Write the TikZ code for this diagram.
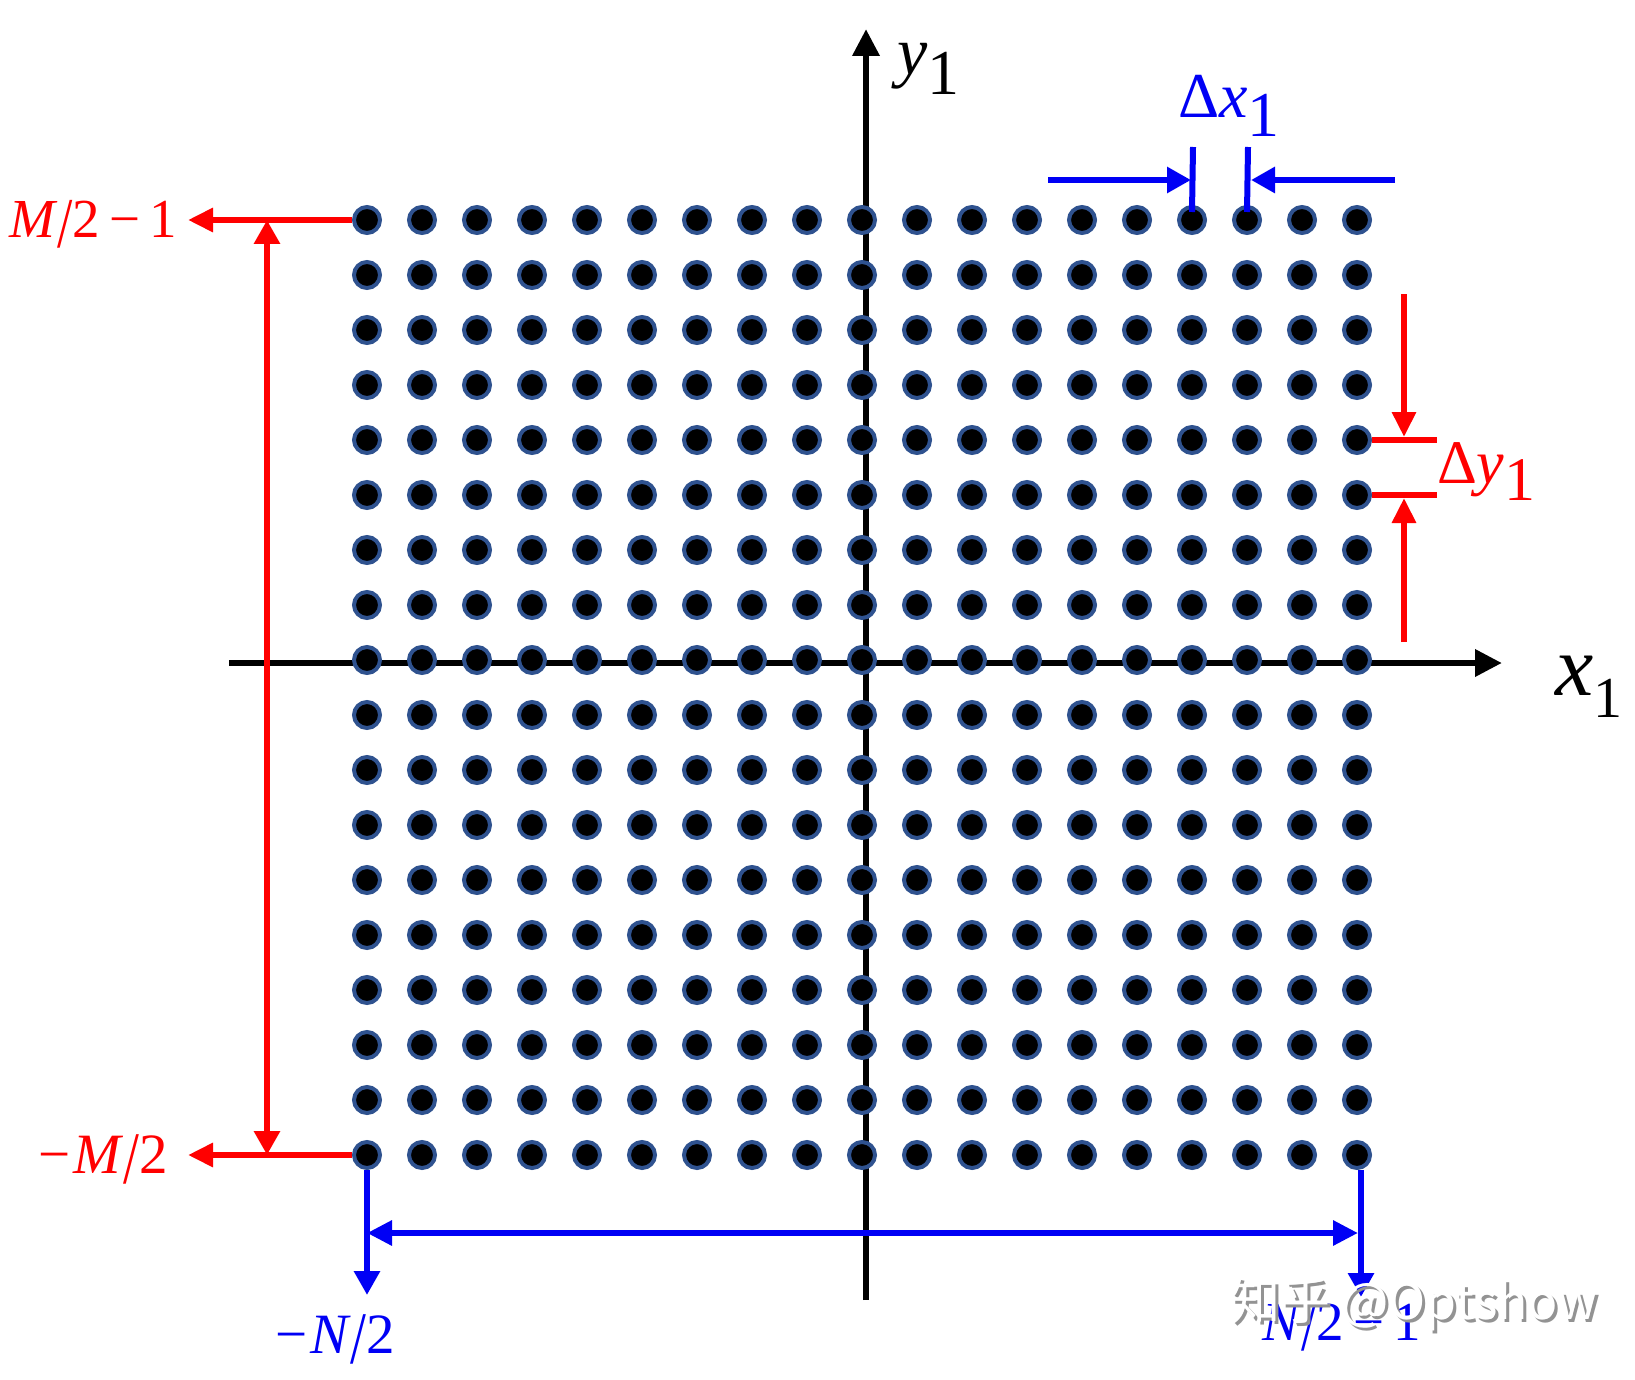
\documentclass[tikz,border=0pt]{standalone}
\usepackage{fontspec}
\usepackage{graphicx}
\setmainfont{Liberation Serif}
\newfontfamily\cjkfont{Noto Sans CJK SC}
\usetikzlibrary{arrows.meta}
\pgfdeclarelayer{bg}
\pgfsetlayers{bg,main}
\definecolor{dotedge}{RGB}{47,82,143}
\definecolor{myred}{RGB}{255,0,0}
\definecolor{myblue}{RGB}{0,0,245}
\newcommand\myfs[1]{\fontsize{#1}{#1}\selectfont}
\newcommand\bigsl{\raisebox{-10pt}{\scalebox{1}[1.3]{/}}}
\tikzset{
  dot/.style={circle,draw=dotedge,fill=black,line width=4pt,minimum size=26pt,inner sep=0pt},
  axisline/.style={line width=6.5pt,-{Triangle[length=27pt,width=26pt]}},
  redarr/.style={myred,line width=6pt,-{Triangle[length=25pt,width=23pt]}},
  redarrs/.style={myred,line width=6pt,{Triangle[length=24pt,width=25pt]}-{Triangle[length=24pt,width=25pt]}},
  redline/.style={myred,line width=6pt},
  bluearr/.style={myblue,line width=6pt,-{Triangle[length=24pt,width=25pt]}},
  bluearrs/.style={myblue,line width=6pt,{Triangle[length=25pt,width=24pt]}-{Triangle[length=25pt,width=24pt]}},
  blueline/.style={myblue,line width=6pt},
  lbl/.style={inner sep=0pt,outer sep=0pt},
}
\begin{document}
\begin{tikzpicture}[x=1pt,y=-1pt]
\begin{pgfonlayer}{bg}
\fill[white] (0,0) rectangle (1635,1380);
\end{pgfonlayer}
\useasboundingbox (0,0) rectangle (1635,1380);

% grid of samples
\foreach \i in {0,...,18}{
  \foreach \j in {0,...,17}{
    \node[dot] (d-\i-\j) at ({367+55*\i},{220+55*\j}) {};
  }
}

% coordinates
\coordinate (axl) at (229,663);
\coordinate (axr) at (1502,663);
\coordinate (ayb) at (866,1300);
\coordinate (ayt) at (866,29);
\coordinate (mtop) at (188,220);
\coordinate (mbot) at (188,1155);
\coordinate (mvt) at (267,220);
\coordinate (mvb) at (267,1155);
\coordinate (nl) at (367,1295);
\coordinate (nr) at (1361,1297);
\coordinate (bhl) at (367,1233);
\coordinate (bhr) at (1358,1233);
\coordinate (dxa) at (1193,147);
\coordinate (dxb) at (1248,147);
\coordinate (dxls) at (1048,180);
\coordinate (dxle) at (1191,180);
\coordinate (dxrs) at (1395,180);
\coordinate (dxre) at (1251,180);
\coordinate (dya) at (1437,440);
\coordinate (dyb) at (1437,495);
\coordinate (dyts) at (1404,294);
\coordinate (dyte) at (1404,437);
\coordinate (dybs) at (1404,642);
\coordinate (dybe) at (1404,498);

\begin{pgfonlayer}{bg}
\draw[axisline] (axl) -- (axr);
\draw[axisline] (ayb) -- (ayt);
\draw[redarr] (d-0-0.west) -- (mtop);
\draw[redarr] (d-0-17.west) -- (mbot);
\draw[redarrs] (mvt) -- (mvb);
\draw[bluearr] (d-0-17.south) -- (nl);
\draw[bluearr] (d-18-17.south -| nr) -- (nr);
\draw[bluearrs] (bhl) -- (bhr);
\draw[redline] (d-18-4.east) -- (dya);
\draw[redline] (d-18-5.east) -- (dyb);
\draw[redarr] (dyts) -- (dyte);
\draw[redarr] (dybs) -- (dybe);
\draw[bluearr] (dxls) -- (dxle);
\draw[bluearr] (dxrs) -- (dxre);
\end{pgfonlayer}

\draw[blueline] (dxa) -- ([yshift=8pt]d-15-0.center);
\draw[blueline] (dxb) -- ([yshift=8pt]d-16-0.center);

% labels
\node[lbl,anchor=base west] (lx) at (1555,695) {\myfs{86}\textit{x}\raisebox{-22pt}{\myfs{58}1}};
\node[lbl,anchor=base west] (ly) at (897,75) {\myfs{68}\textit{y}\raisebox{-20pt}{\myfs{64}1}};
\node[lbl,anchor=base west,text=myblue] (ldx) at (1178,118) {\myfs{64}Δ\textit{x}\raisebox{-19pt}{\myfs{64}1}};
\node[lbl,anchor=base west,text=myred] (ldy) at (1437,483) {\myfs{62}Δ\textit{y}\raisebox{-17pt}{\myfs{62}1}};
\node[lbl,anchor=base east,text=myred] (lmt) at (177,238) {\myfs{55}\textit{M}\bigsl 2\,−\,1};
\node[lbl,anchor=base east,text=myred] (lmb) at (168,1173) {\myfs{57}−\kern3pt\textit{M}\bigsl 2};
\node[lbl,anchor=base west,text=myblue] (lnl) at (275,1353) {\myfs{57}−\kern3pt\textit{N}\bigsl 2};
\node[lbl,anchor=base west,text=myblue] (lnr) at (1262,1340) {\myfs{55}\textit{N}\bigsl 2\,−\,1};

% watermark
\node[lbl,anchor=west,text=gray!85] (wms) at (1233,1307) {\cjkfont\myfs{50}知乎 @Optshow};
\node[lbl,anchor=west,text=white] (wm) at (1230,1304) {\cjkfont\myfs{50}知乎 @Optshow};
\end{tikzpicture}
\end{document}
